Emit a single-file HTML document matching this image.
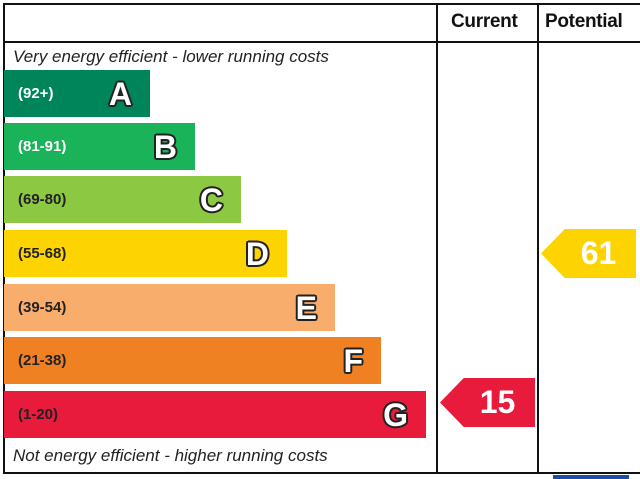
<!DOCTYPE html><html><head><style>
body{margin:0;width:640px;height:479px;background:#fff;position:relative;overflow:hidden;font-family:"Liberation Sans",Arial,sans-serif}
.l{position:absolute;background:#111}
.bar{position:absolute;left:4px;height:47px}
.bar .r{position:absolute;left:14px;top:15px;font-weight:bold;font-size:15px;color:#222}
.bar .k{position:absolute;right:18px;top:6px;font-weight:bold;font-size:32px;color:#fff;text-shadow:-1.5px -1.5px 0 #222,1.5px -1.5px 0 #222,-1.5px 1.5px 0 #222,1.5px 1.5px 0 #222,0 2px 0 #222,0 -2px 0 #222,2px 0 0 #222,-2px 0 0 #222}
.it{position:absolute;left:13px;font-style:italic;font-size:17px;color:#222}
.h{position:absolute;top:11px;font-weight:bold;font-size:19px;color:#111;letter-spacing:-0.3px}
.ar{position:absolute;height:49px;color:#fff;font-weight:bold;font-size:32px;text-align:center;line-height:49px}
</style></head><body>
<div class="l" style="left:3px;top:3px;width:637px;height:2px"></div>
<div class="l" style="left:3px;top:41px;width:637px;height:2px"></div>
<div class="l" style="left:3px;top:472px;width:637px;height:2px"></div>
<div class="l" style="left:3px;top:3px;width:2px;height:471px"></div>
<div class="l" style="left:436px;top:3px;width:2px;height:471px"></div>
<div class="l" style="left:537px;top:3px;width:2px;height:471px"></div>
<div class="h" style="left:451px">Current</div>
<div class="h" style="left:545px">Potential</div>
<div class="it" style="top:47px">Very energy efficient - lower running costs</div>
<div class="it" style="top:446px">Not energy efficient - higher running costs</div>
<div class="bar" style="top:70px;width:146px;background:#00855a"><span class="r" style="color:#fff">(92+)</span><span class="k">A</span></div>
<div class="bar" style="top:123px;width:191px;background:#1bb35a"><span class="r" style="color:#fff">(81-91)</span><span class="k">B</span></div>
<div class="bar" style="top:176px;width:237px;background:#8dc843"><span class="r">(69-80)</span><span class="k">C</span></div>
<div class="bar" style="top:230px;width:283px;background:#fdd300"><span class="r">(55-68)</span><span class="k">D</span></div>
<div class="bar" style="top:284px;width:331px;background:#f9ad6c"><span class="r">(39-54)</span><span class="k">E</span></div>
<div class="bar" style="top:337px;width:377px;background:#f08123"><span class="r">(21-38)</span><span class="k">F</span></div>
<div class="bar" style="top:391px;width:422px;background:#e91b3d"><span class="r">(1-20)</span><span class="k">G</span></div>
<div class="ar" style="left:440px;top:378px;width:95px;background:#e91b3d;clip-path:polygon(0 50%,25% 0,100% 0,100% 100%,25% 100%)"><span style="margin-left:20px">15</span></div>
<div class="ar" style="left:541px;top:229px;width:95px;background:#fdd300;clip-path:polygon(0 50%,25% 0,100% 0,100% 100%,25% 100%)"><span style="margin-left:20px">61</span></div>
<div style="position:absolute;left:553px;top:475px;width:76px;height:4px;background:#1a4fa0"></div>
</body></html>
